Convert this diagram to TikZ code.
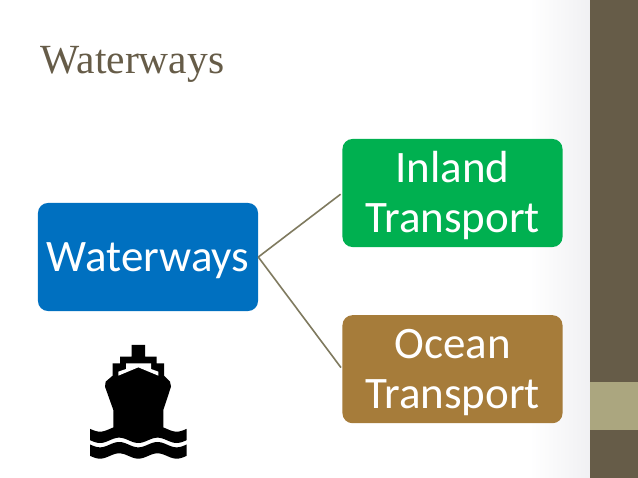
\documentclass[tikz,border=0pt]{standalone}
\usepackage{fontspec}
\setmainfont{Carlito}
\newfontfamily\titlefont{Liberation Serif}
\usetikzlibrary{positioning}
\definecolor{barDark}{HTML}{665C48}
\definecolor{barLight}{HTML}{ABA67F}
\definecolor{paleEdge}{HTML}{F0F0F3}
\definecolor{boxBlue}{HTML}{0070C0}
\definecolor{boxGreen}{HTML}{00B050}
\definecolor{boxBrown}{HTML}{A67C3A}
\definecolor{linkLine}{HTML}{7F7A5F}
\tikzstyle{box} = [rectangle, rounded corners=0.25cm, minimum width=5.5cm, minimum height=2.7cm, text=white, align=center, font=\fontsize{32}{35.5}\selectfont]
\tikzstyle{link} = [draw=linkLine, line width=0.04cm, shorten >=0.05cm]

\begin{document}
\begin{tikzpicture}[x=0.025cm, y=-0.025cm]
        \useasboundingbox (0,0) rectangle (638,478);
        % page and side bar
        \fill[white] (0,0) rectangle (590,478);
        \shade[left color=white, right color=paleEdge] (530,0) rectangle (590,478);
        \fill[barDark] (590,0) rectangle (638,478);
        \fill[barLight] (590,382) rectangle (638,430);

        \node (title) [text=barDark, font=\titlefont\fontsize{29.5}{34}\selectfont, anchor=base west] at (36,74) {Waterways};

        \node (hub) [box, text height=26pt, fill=boxBlue] at (148,257) {Waterways};
        \node (inland) [box, text height=61.5pt, fill=boxGreen] at (452.5,193) {Inland\\Transport};
        \node (ocean) [box, text height=61pt, fill=boxBrown, below=1.69cm of inland] {Ocean\\Transport};

        \draw[link] (hub.east) -- (inland.west);
        \draw[link] (hub.east) -- (ocean.west);

        % ship, coordinates taken from a 3x crop
        \begin{scope}[shift={(70,330)}, x=0.025cm/3, y=-0.025cm/3]
                \fill[black] (185,45) -- (225,45) -- (225,80) -- (260,80) -- (260,100) -- (282,100) -- (282,137) -- (300,155) -- (303,170) -- (280,240) -- (280,310) -- (130,310) -- (130,240) -- (105,170) -- (107,155) -- (128,137) -- (128,100) -- (150,100) -- (150,80) -- (185,80) -- cycle;
                \fill[white] (168,100) -- (243,100) -- (243,117) -- (265,125) -- (265,137) -- (205,112) -- (145,137) -- (145,125) -- (168,117) -- cycle;
                \foreach \ybase in {0,47}
                        \fill[black, shift={(0,\ybase)}] plot[domain=60:350, samples=50] (\x, {297+8*cos((\x-90)*3.13)}) -- plot[domain=350:60, samples=50] (\x, {331+8*cos((\x-90)*3.13)}) -- cycle;
        \end{scope}
\end{tikzpicture}
\end{document}
